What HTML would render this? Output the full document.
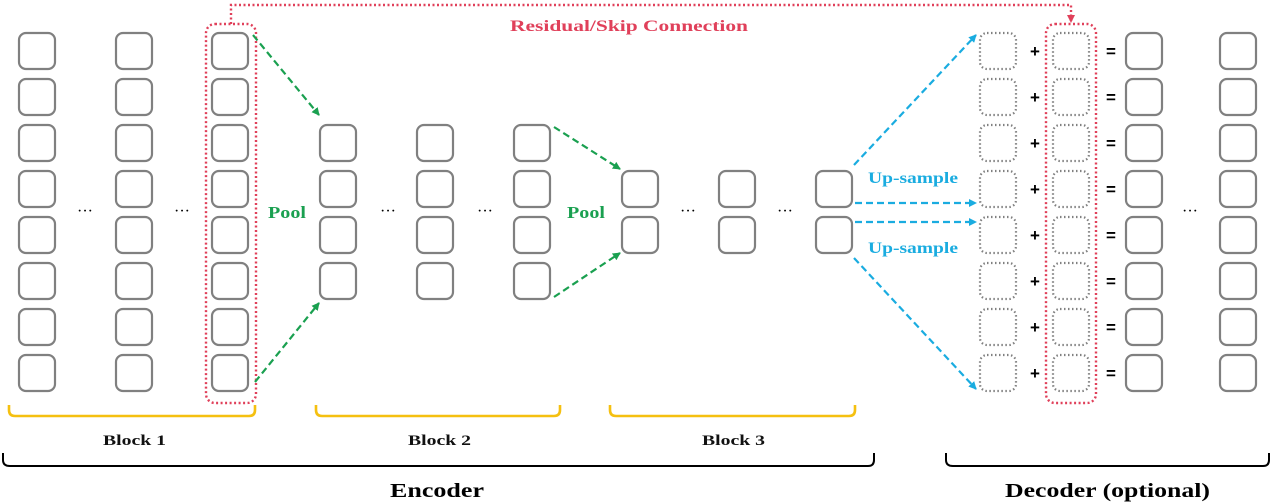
<!DOCTYPE html>
<html><head><meta charset="utf-8"><style>
html,body{margin:0;padding:0;background:#fff;}
svg{display:block;}
text{font-family:"Liberation Serif",serif;}
</style></head><body>
<svg width="1273" height="502" viewBox="0 0 1273 502" xmlns="http://www.w3.org/2000/svg">
<defs>
<marker id="ag" markerWidth="8" markerHeight="8" refX="7" refY="4" orient="auto" markerUnits="userSpaceOnUse"><path d="M0,0 L8,4 L0,8 z" fill="#1aa050"/></marker>
<marker id="ab" markerWidth="8" markerHeight="8" refX="7" refY="4" orient="auto" markerUnits="userSpaceOnUse"><path d="M0,0 L8,4 L0,8 z" fill="#1aace0"/></marker>
<marker id="ar" markerWidth="8" markerHeight="8" refX="7" refY="4" orient="auto" markerUnits="userSpaceOnUse"><path d="M0,0 L8,4 L0,8 z" fill="#e0405a"/></marker>
</defs>
<g fill="none" stroke="#808080" stroke-width="2.2">
<g id="c8">
<rect x="19" y="33" width="36" height="36" rx="7"/><rect x="19" y="79" width="36" height="36" rx="7"/>
<rect x="19" y="125" width="36" height="36" rx="7"/><rect x="19" y="171" width="36" height="36" rx="7"/>
<rect x="19" y="217" width="36" height="36" rx="7"/><rect x="19" y="263" width="36" height="36" rx="7"/>
<rect x="19" y="309" width="36" height="36" rx="7"/><rect x="19" y="355" width="36" height="36" rx="7"/>
</g>
<use href="#c8" x="97"/><use href="#c8" x="193"/>
<g id="c4">
<rect x="320" y="125" width="36" height="36" rx="7"/><rect x="320" y="171" width="36" height="36" rx="7"/>
<rect x="320" y="217" width="36" height="36" rx="7"/><rect x="320" y="263" width="36" height="36" rx="7"/>
</g>
<use href="#c4" x="97"/><use href="#c4" x="194"/>
<g id="c2"><rect x="622" y="171" width="36" height="36" rx="7"/><rect x="622" y="217" width="36" height="36" rx="7"/></g>
<use href="#c2" x="97"/><use href="#c2" x="194"/>
<use href="#c8" x="1107"/><use href="#c8" x="1201"/>
</g>
<g fill="none" stroke="#808080" stroke-width="2.2" stroke-dasharray="1.5 2.5">
<use href="#c8" x="961"/><use href="#c8" x="1034"/>
</g>
<g fill="none" stroke="#e0405a" stroke-width="2.4" stroke-dasharray="2 2.5">
<rect x="206" y="24" width="50" height="379" rx="9"/>
<rect x="1046" y="24" width="50" height="379" rx="9"/>
<path d="M231,24 V5 H1071 V22" marker-end="url(#ar)"/>
</g>
<text x="510" y="31" font-size="16" font-weight="bold" fill="#e0405a" textLength="238" lengthAdjust="spacingAndGlyphs">Residual/Skip  Connection</text>
<g stroke="#1aa050" stroke-width="2.2" stroke-dasharray="7 4" fill="none">
<line x1="253" y1="35" x2="319" y2="115" marker-end="url(#ag)"/>
<line x1="255" y1="382" x2="319" y2="303" marker-end="url(#ag)"/>
<line x1="554" y1="127" x2="620" y2="169" marker-end="url(#ag)"/>
<line x1="554" y1="297" x2="620" y2="253" marker-end="url(#ag)"/>
</g>
<text x="268" y="218" font-size="17" font-weight="bold" fill="#1aa050" textLength="38" lengthAdjust="spacingAndGlyphs">Pool</text>
<text x="567" y="218" font-size="17" font-weight="bold" fill="#1aa050" textLength="38" lengthAdjust="spacingAndGlyphs">Pool</text>
<g stroke="#1aace0" stroke-width="2.2" stroke-dasharray="7 4" fill="none">
<line x1="854" y1="165" x2="976" y2="35" marker-end="url(#ab)"/>
<line x1="855" y1="203" x2="976" y2="203" marker-end="url(#ab)"/>
<line x1="855" y1="222" x2="976" y2="222" marker-end="url(#ab)"/>
<line x1="854" y1="258" x2="976" y2="389" marker-end="url(#ab)"/>
</g>
<text x="868" y="183" font-size="16" font-weight="bold" fill="#1aace0" textLength="90" lengthAdjust="spacingAndGlyphs">Up-sample</text>
<text x="868" y="253" font-size="16" font-weight="bold" fill="#1aace0" textLength="90" lengthAdjust="spacingAndGlyphs">Up-sample</text>
<g font-size="16" fill="#000" text-anchor="middle">
<text x="85" y="216">···</text><text x="182" y="216">···</text>
<text x="388" y="216">···</text><text x="485" y="216">···</text>
<text x="688" y="216">···</text><text x="785" y="216">···</text>
<text x="1190" y="216">···</text>
</g>
<g font-size="17" font-weight="bold" fill="#000" text-anchor="middle">
<g id="pe"><text x="1035" y="57" style="font-family:'Liberation Sans',sans-serif">+</text><text x="1111" y="57" style="font-family:'Liberation Sans',sans-serif">=</text></g>
<use href="#pe" y="46"/><use href="#pe" y="92"/><use href="#pe" y="138"/><use href="#pe" y="184"/><use href="#pe" y="230"/><use href="#pe" y="276"/><use href="#pe" y="322"/>
</g>
<g stroke="#f5c010" stroke-width="2.6" fill="none">
<path d="M9,405 V410 Q9,416 15,416 H249 Q255,416 255,410 V405"/>
<path d="M316,405 V410 Q316,416 322,416 H554 Q560,416 560,410 V405"/>
<path d="M610,405 V410 Q610,416 616,416 H849 Q855,416 855,410 V405"/>
</g>
<g font-size="15" font-weight="bold" fill="#111">
<text x="103" y="445" textLength="63" lengthAdjust="spacingAndGlyphs">Block  1</text>
<text x="408" y="445" textLength="63" lengthAdjust="spacingAndGlyphs">Block  2</text>
<text x="702" y="445" textLength="63" lengthAdjust="spacingAndGlyphs">Block  3</text>
</g>
<g stroke="#000" stroke-width="2" fill="none">
<path d="M3,453 V460 Q3,466 10,466 H868 Q874,466 874,460 V453"/>
<path d="M946,453 V460 Q946,466 953,466 H1263 Q1269,466 1269,460 V453"/>
</g>
<g font-size="20" font-weight="bold" fill="#000">
<text x="390" y="497" textLength="94" lengthAdjust="spacingAndGlyphs">Encoder</text>
<text x="1005" y="497" textLength="205" lengthAdjust="spacingAndGlyphs">Decoder  (optional)</text>
</g>
</svg>
</body></html>
